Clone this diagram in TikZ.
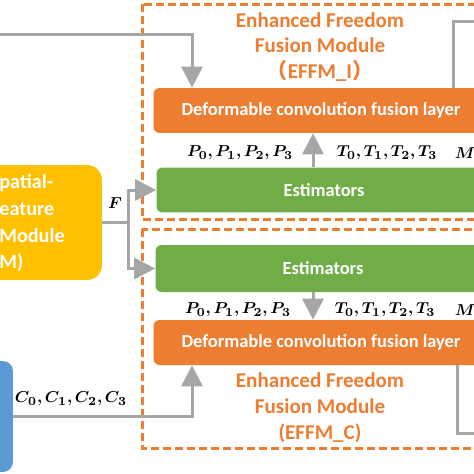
\documentclass[tikz,border=0pt]{standalone}
\usepackage{amsmath,bm}
\usepackage{fontspec}
\setmainfont{Carlito}
\newfontfamily\cjk{Noto Sans CJK SC}
\usetikzlibrary{arrows.meta}
\definecolor{effmorange}{HTML}{ED7D31}
\definecolor{estgreen}{HTML}{70AD47}
\definecolor{sfmyellow}{HTML}{FFC000}
\definecolor{cblue}{HTML}{5B9BD5}
\definecolor{arrowgray}{HTML}{A6A6A6}
\tikzset{
   layer/.style={fill=effmorange, rounded corners=0.12cm, text=white, inner sep=0pt,
      font=\bfseries\fontsize{10.5}{12}\selectfont, minimum width=6.7cm, minimum height=0.9cm},
   estim/.style={layer, fill=estgreen},
   frame/.style={draw=effmorange, line width=0.06cm, dash pattern=on 0.16cm off 0.08cm},
   title/.style={text=effmorange, align=center, font=\bfseries\fontsize{12}{14.7}\selectfont},
   side/.style={rounded corners=0.3cm, inner sep=0pt},
   garrow/.style={draw=arrowgray, line width=0.06cm, -{Triangle[width=0.42cm,length=0.42cm]}},
   gline/.style={draw=arrowgray, line width=0.06cm},
   lbl/.style={font=\fontsize{9.3}{12}\selectfont, inner sep=0pt}
}
\begin{document}
\begin{tikzpicture}[x=0.02cm, y=-0.02cm]
   \useasboundingbox (0,0) rectangle (474,474);
   \clip (0,0) rectangle (474,474);
   % module frames
   \draw [frame] (142,4) rectangle (520,219);
   \draw [frame] (142,229) rectangle (520,448);
   % blocks
   \node (layI) [layer] at (321,110.5) {Deformable convolution fusion layer};
   \node (estI) [estim] at (324,190) {Estimators};
   \node (estC) [estim, minimum height=0.94cm] at (323,268.5) {Estimators};
   \node (layC) [layer] at (321,342.5) {Deformable convolution fusion layer};
   \node (titleI) [title] at (320,47) {Enhanced Freedom\\Fusion Module\\{\cjk （}EFFM\_I{\cjk ）}};
   \node (titleC) [title] at (320,408) {Enhanced Freedom\\Fusion Module\\(EFFM\_C)};
   \node (sfm) [side, fill=sfmyellow, minimum width=2.84cm, minimum height=2.3cm] at (31,222.5) {};
   \node (sfmtext) [anchor=west, align=left, text=white, inner sep=0pt,
      font=\bfseries\fontsize{11.5}{15.3}\selectfont] at (-1,223) {patial-\\eature\\Module\\M)};
   \node (cblk) [side, rounded corners=0.2cm, fill=cblue, minimum width=2.26cm, minimum height=2.22cm] at (-43.5,416.5) {};
   % labels
   \node (pI) [lbl] at (240,153) {$\bm{P_0, P_1, P_2, P_3}$};
   \node (tI) [lbl] at (387,153) {$\bm{T_0, T_1, T_2, T_3}$};
   \node (mI) [lbl] at (465,153) {$\bm{M}$};
   \node (pC) [lbl] at (238,310) {$\bm{P_0, P_1, P_2, P_3}$};
   \node (tC) [lbl] at (385,310) {$\bm{T_0, T_1, T_2, T_3}$};
   \node (mC) [lbl] at (465,310) {$\bm{M}$};
   \node (fl) [lbl] at (115,203) {$\bm{F}$};
   \node (cl) [lbl] at (71,399) {$\bm{C_0, C_1, C_2, C_3}$};
   % connectors
   \coordinate (inI) at (0,34);
   \coordinate (inIbend) at (192,34);
   \draw [garrow] (inI) -- (inIbend) -- (inIbend |- layI.north);
   \coordinate (outIbend) at (453,21);
   \coordinate (outI) at (480,21);
   \draw [gline] (outIbend |- layI.north) -- (outIbend) -- (outI);
   \coordinate (mid) at (313,0);
   \draw [garrow] (estI.north -| mid) -- (layI.south -| mid);
   \draw [garrow] (estC.south -| mid) -- (layC.north -| mid);
   \coordinate (fsplit) at (128,222.5);
   \draw [gline] (sfm.east) -- (fsplit);
   \draw [garrow] (fsplit) |- (estI.west);
   \draw [garrow] (fsplit) |- (estC.west);
   \coordinate (inCbend) at (192,416.5);
   \draw [garrow] (cblk.east) -- (inCbend) -- (inCbend |- layC.south);
   \coordinate (outCbend) at (457,433);
   \coordinate (outC) at (480,433);
   \draw [gline] (outCbend |- layC.south) -- (outCbend) -- (outC);
\end{tikzpicture}
\end{document}
